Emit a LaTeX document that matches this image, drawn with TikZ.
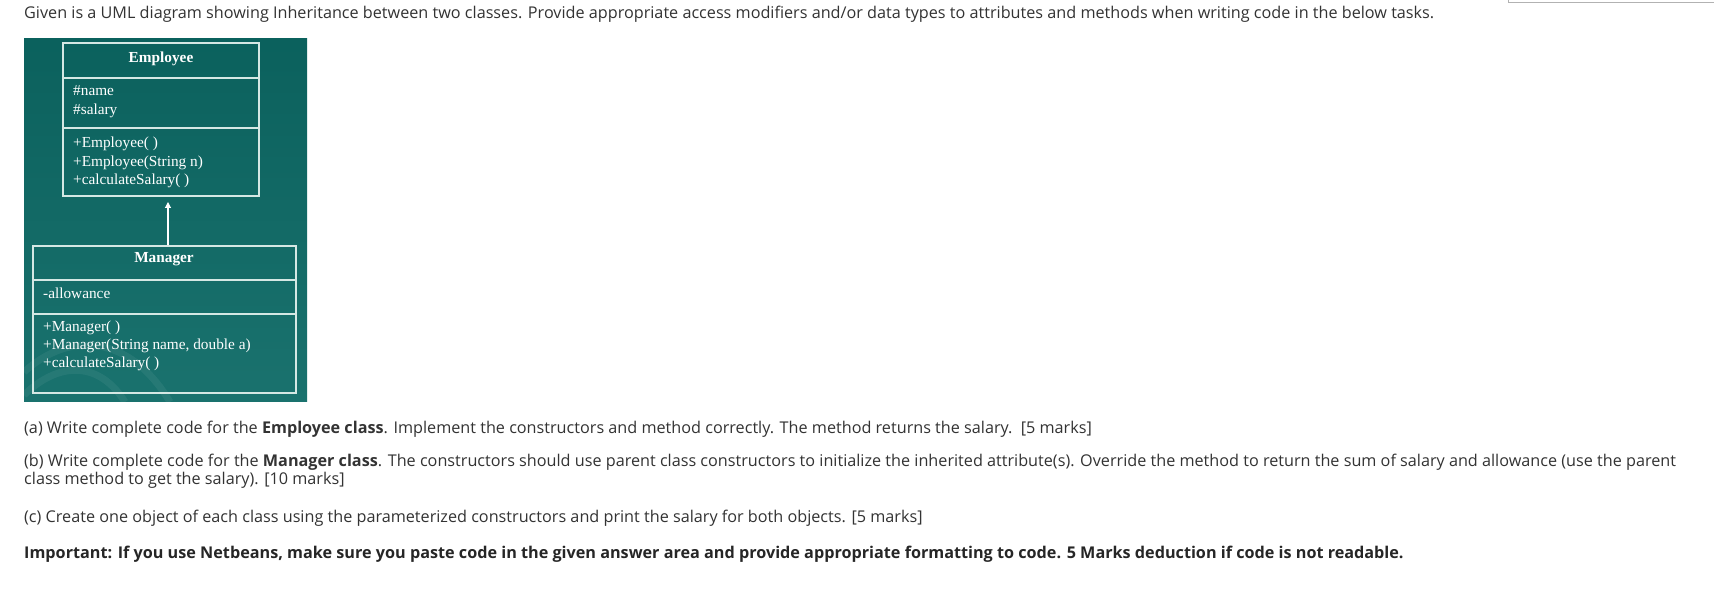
\documentclass[tikz,border=0pt]{standalone}
\usepackage{fontspec}
\setmainfont{Open Sans}
\newfontfamily\umlfont{Liberation Serif}
\usetikzlibrary{arrows.meta}
\definecolor{paneltop}{HTML}{0B615D}
\definecolor{panelbot}{HTML}{1A726E}
\definecolor{textgray}{HTML}{333333}
\definecolor{umlline}{HTML}{D5E8E4}
\begin{document}
\begin{tikzpicture}[x=1pt,y=-1pt,
  txt/.style={anchor=base west, inner sep=0pt, text=textgray, font=\fontsize{16.2}{18}\selectfont},
  umlbox/.style={draw=umlline, line width=1.2pt, inner sep=0pt},
  divider/.style={draw=umlline, line width=1.2pt},
  umltxt/.style={anchor=base west, inner sep=0pt, text=white, font=\umlfont\fontsize{15.3}{18}\selectfont},
  umltitle/.style={anchor=base, inner sep=0pt, text=white, font=\umlfont\bfseries\fontsize{15.3}{18}\selectfont},
  swirl/.style={draw=white, draw opacity=0.06, line width=7pt},
  inherit/.style={draw=white, line width=1.1pt, -{Triangle[length=6pt,width=6pt]}}]
\fill[white] (0,0) rectangle (1714,609);
\useasboundingbox (0,0) rectangle (1714,609);
% top-right frame fragment
\draw[gray!60, line width=0.8pt] (1508,0) -- (1508,2) -- (1714,2);
% header
\node[txt] (head) at (24,19) {Given is a UML diagram showing Inheritance between two classes. Provide appropriate access modifiers and/or data types to attributes and methods when writing code in the below tasks.};
% teal panel
\shade[top color=paneltop, bottom color=panelbot] (24,39) rectangle (307,402);
\begin{scope}
\clip (24,39) rectangle (307,402);
\draw[swirl] (24,372) .. controls (70,330) and (130,335) .. (170,402);
\draw[swirl] (24,395) .. controls (60,360) and (100,362) .. (125,402);
\end{scope}
% Employee class
\node[umlbox, minimum width=196pt, minimum height=153pt] (emp) at (161,119.5) {};
\draw[divider] (emp.west |- 0,78) -- (emp.east |- 0,78);
\draw[divider] (emp.west |- 0,128) -- (emp.east |- 0,128);
\node[umltitle] (empt) at (161,63) {Employee};
\node[umltxt] (e1) at (73,96) {\#name};
\node[umltxt] (e2) at (73,115) {\#salary};
\node[umltxt] (e3) at (73,148) {+Employee( )};
\node[umltxt] (e4) at (73,166.5) {+Employee(String n)};
\node[umltxt] (e5) at (73,185) {+calculateSalary( )};
% Manager class
\node[umlbox, minimum width=263pt, minimum height=147pt] (mgr) at (164.5,319.5) {};
\draw[divider] (mgr.west |- 0,280) -- (mgr.east |- 0,280);
\draw[divider] (mgr.west |- 0,314) -- (mgr.east |- 0,314);
\node[umltitle] (mgrt) at (164,263) {Manager};
\node[umltxt] (m1) at (43,299) {-allowance};
\node[umltxt] (m2) at (43,332) {+Manager( )};
\node[umltxt] (m3) at (43,350) {+Manager(String name, double a)};
\node[umltxt] (m4) at (43,368) {+calculateSalary( )};
% inheritance arrow
\coordinate (tip) at (168,202);
\draw[inherit] (mgr.north -| tip) -- (tip);
% questions
\node[txt] (qa) at (24,434) {(a) Write complete code for the \textbf{Employee class}. Implement the constructors and method correctly. The method returns the salary.\ \ [5 marks]};
\node[txt] (qb) at (24,467) {(b) Write complete code for the \textbf{Manager class}. The constructors should use parent class constructors to initialize the inherited attribute(s). Override the method to return the sum of salary and allowance (use the parent};
\node[txt] (qb2) at (24,484) {class method to get the salary). [10 marks]};
\node[txt] (qc) at (24,522) {(c) Create one object of each class using the parameterized constructors and print the salary for both objects. [5 marks]};
\node[txt, font=\bfseries\fontsize{16.2}{18}\selectfont, text=black!85] (imp) at (24,558) {Important: If you use Netbeans, make sure you paste code in the given answer area and provide appropriate formatting to code. 5 Marks deduction if code is not readable.};
\end{tikzpicture}
\end{document}
